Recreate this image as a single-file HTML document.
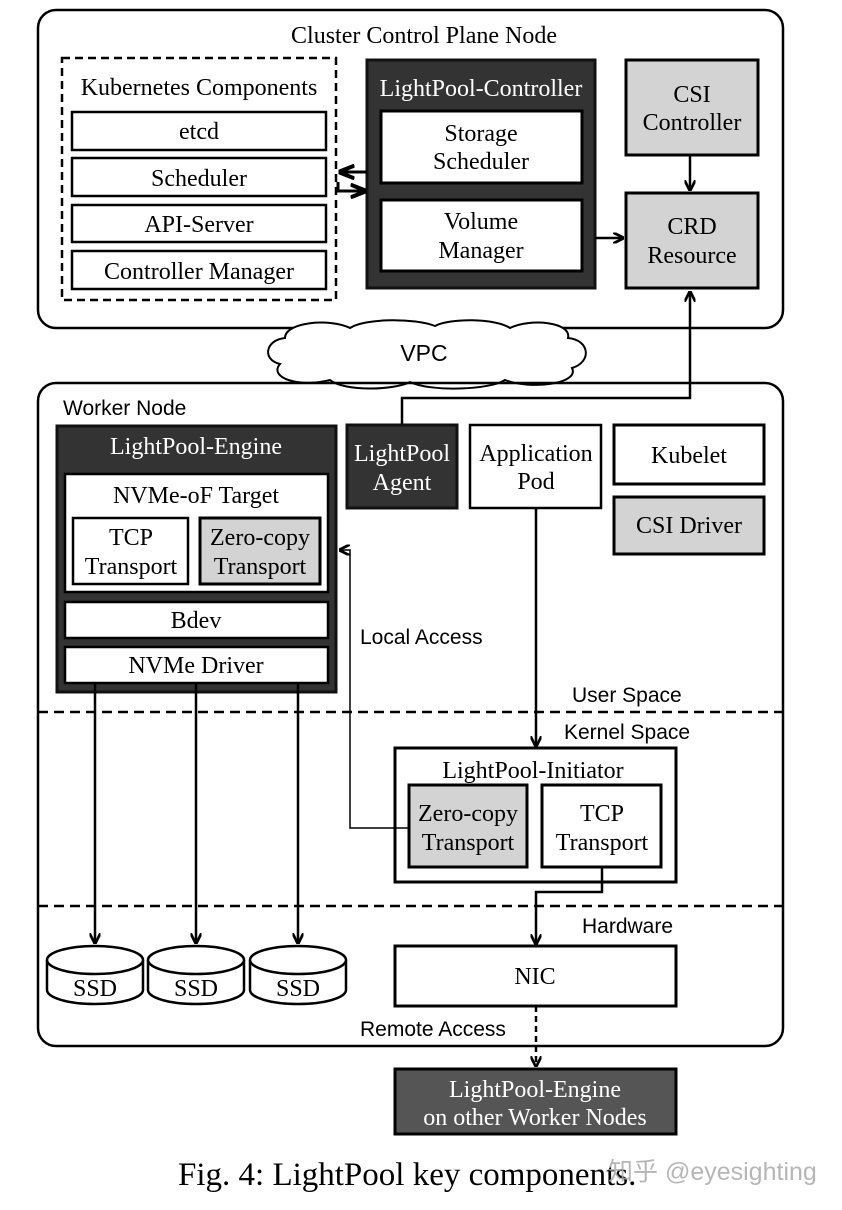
<!DOCTYPE html>
<html><head><meta charset="utf-8"><style>
html,body{margin:0;padding:0;background:#fff;}
svg{display:block;}
.s{font-family:"Liberation Serif",serif;}
.a{font-family:"Liberation Sans",sans-serif;}
</style></head><body>
<svg width="842" height="1210" viewBox="0 0 842 1210" xmlns="http://www.w3.org/2000/svg">
<defs>
<marker id="ar" viewBox="0 0 10 10" refX="9" refY="5" markerWidth="11" markerHeight="11" orient="auto" markerUnits="userSpaceOnUse">
<path d="M0,0 L10,5 L0,10" fill="none" stroke="#000" stroke-width="2.5"/>
</marker>
<marker id="ab" viewBox="0 0 10 10" refX="9" refY="5" markerWidth="16" markerHeight="16" orient="auto" markerUnits="userSpaceOnUse">
<path d="M0,1 L10,5 L0,9" fill="none" stroke="#000" stroke-width="2.5"/>
</marker>
</defs>
<g fill="none" stroke="#000" stroke-width="2.5">
<rect x="38" y="10" width="745" height="318" rx="18"/>
<rect x="62" y="58" width="274" height="242" stroke-dasharray="8,5"/>
<rect x="72" y="112" width="254" height="38"/>
<rect x="72" y="158" width="254" height="38"/>
<rect x="72" y="205" width="254" height="37"/>
<rect x="72" y="251" width="254" height="38"/>
<rect x="367" y="60" width="228" height="228" fill="#333" stroke="#111" stroke-width="3"/>
<rect x="381" y="111" width="201" height="72" fill="#fff" stroke="#000" stroke-width="3"/>
<rect x="381" y="200" width="201" height="71" fill="#fff" stroke="#000" stroke-width="3"/>
<rect x="626" y="60" width="132" height="95" fill="#d3d3d3" stroke-width="3"/>
<rect x="626" y="193" width="132" height="95" fill="#d3d3d3" stroke-width="3"/>
<line x1="690" y1="155" x2="690" y2="190" marker-end="url(#ar)"/>
<line x1="595" y1="238" x2="623" y2="238" marker-end="url(#ar)"/>
<line x1="367" y1="172" x2="340" y2="172" stroke-width="3" marker-end="url(#ab)"/>
<polyline points="338,182 338,191 365,191" stroke-width="3" marker-end="url(#ab)"/>
<path d="M285,338 C265,340 262,360 280,364 C268,378 300,388 330,380 C345,392 395,390 410,382 C430,392 490,390 505,380 C530,390 580,384 572,368 C592,362 590,340 568,338 C572,322 530,318 510,328 C495,318 450,318 435,326 C415,318 365,318 350,328 C330,318 285,322 285,338 Z" fill="#fff" stroke-width="2"/>
<rect x="38" y="383" width="745" height="663" rx="18"/>
<polyline points="402,425 402,398 690,398 690,292" marker-end="url(#ar)"/>
<rect x="57" y="426" width="279" height="266" fill="#333" stroke="#111" stroke-width="3"/>
<rect x="65" y="474" width="263" height="118" fill="#fff"/>
<rect x="73" y="518" width="115" height="66" fill="#fff"/>
<rect x="200" y="518" width="120" height="66" fill="#d3d3d3" stroke-width="3"/>
<rect x="65" y="602" width="263" height="36" fill="#fff"/>
<rect x="65" y="647" width="263" height="36" fill="#fff"/>
<rect x="347" y="425" width="110" height="83" fill="#333" stroke="#111" stroke-width="3"/>
<rect x="470" y="425" width="131" height="83" fill="#fff"/>
<rect x="614" y="425" width="150" height="59" fill="#fff" stroke-width="3"/>
<rect x="614" y="497" width="150" height="57" fill="#d3d3d3" stroke-width="3"/>
<line x1="536" y1="508" x2="536" y2="746" marker-end="url(#ar)"/>
<polyline points="409,828 350,828 350,550 340,550" stroke-width="1.5" marker-end="url(#ar)"/>
<line x1="38" y1="712" x2="783" y2="712" stroke-dasharray="10,6"/>
<line x1="38" y1="906" x2="783" y2="906" stroke-dasharray="10,6"/>
<rect x="395" y="748" width="281" height="134" stroke-width="3"/>
<rect x="409" y="785" width="118" height="82" fill="#d3d3d3" stroke-width="3"/>
<rect x="542" y="785" width="119" height="82" fill="#fff" stroke-width="3"/>
<polyline points="602,867 602,892 536,892 536,944" marker-end="url(#ar)"/>
<rect x="395" y="946" width="281" height="60" stroke-width="3"/>
<line x1="95" y1="683" x2="95" y2="943" marker-end="url(#ar)"/>
<line x1="196" y1="683" x2="196" y2="943" marker-end="url(#ar)"/>
<line x1="298" y1="683" x2="298" y2="943" marker-end="url(#ar)"/>
<g fill="#fff">
<path d="M47,960 L47,990 A48,14 0 0 0 143,990 L143,960"/><ellipse cx="95" cy="960" rx="48" ry="14"/>
<path d="M148,960 L148,990 A48,14 0 0 0 244,990 L244,960"/><ellipse cx="196" cy="960" rx="48" ry="14"/>
<path d="M250,960 L250,990 A48,14 0 0 0 346,990 L346,960"/><ellipse cx="298" cy="960" rx="48" ry="14"/>
</g>
<line x1="536" y1="1006" x2="536" y2="1066" stroke-dasharray="6,4" marker-end="url(#ar)"/>
<rect x="395" y="1069" width="281" height="65" fill="#555" stroke="#000" stroke-width="3"/>
</g>
<g class="s" font-size="24" text-anchor="middle" fill="#000">
<text x="424" y="43">Cluster Control Plane Node</text>
<text x="199" y="95">Kubernetes Components</text>
<text x="199" y="139">etcd</text>
<text x="199" y="186">Scheduler</text>
<text x="199" y="232">API-Server</text>
<text x="199" y="279">Controller Manager</text>
<text x="481" y="96" fill="#fff">LightPool-Controller</text>
<text x="481" y="141">Storage</text><text x="481" y="169">Scheduler</text>
<text x="481" y="229">Volume</text><text x="481" y="258">Manager</text>
<text x="692" y="102">CSI</text><text x="692" y="130">Controller</text>
<text x="692" y="234">CRD</text><text x="692" y="263">Resource</text>
<text x="196" y="454" fill="#fff">LightPool-Engine</text>
<text x="196" y="503">NVMe-oF Target</text>
<text x="131" y="545">TCP</text><text x="131" y="574">Transport</text>
<text x="260" y="545">Zero-copy</text><text x="260" y="574">Transport</text>
<text x="196" y="628">Bdev</text>
<text x="196" y="673">NVMe Driver</text>
<text x="402" y="461" fill="#fff">LightPool</text><text x="402" y="490" fill="#fff">Agent</text>
<text x="536" y="461">Application</text><text x="536" y="489">Pod</text>
<text x="689" y="463">Kubelet</text>
<text x="689" y="533">CSI Driver</text>
<text x="533" y="778">LightPool-Initiator</text>
<text x="468" y="821">Zero-copy</text><text x="468" y="850">Transport</text>
<text x="602" y="821">TCP</text><text x="602" y="850">Transport</text>
<text x="535" y="984">NIC</text>
<text x="95" y="996">SSD</text><text x="196" y="996">SSD</text><text x="298" y="996">SSD</text>
<text x="535" y="1097" fill="#fff">LightPool-Engine</text>
<text x="535" y="1125" fill="#fff">on other Worker Nodes</text>
</g>
<g class="a" font-size="21" fill="#000">
<text x="424" y="361" text-anchor="middle" font-size="23">VPC</text>
<text x="63" y="415">Worker Node</text>
<text x="360" y="644">Local Access</text>
<text x="572" y="702">User Space</text>
<text x="564" y="739">Kernel Space</text>
<text x="582" y="933">Hardware</text>
<text x="360" y="1036">Remote Access</text>
</g>
<text x="178" y="1185" class="s" font-size="33">Fig. 4: LightPool key components.</text>
<text x="608" y="1180" font-family="Liberation Sans,'Noto Sans CJK SC',sans-serif" font-size="25" fill="#aaa" opacity="0.85">知乎 @eyesighting</text>
</svg>
</body></html>
